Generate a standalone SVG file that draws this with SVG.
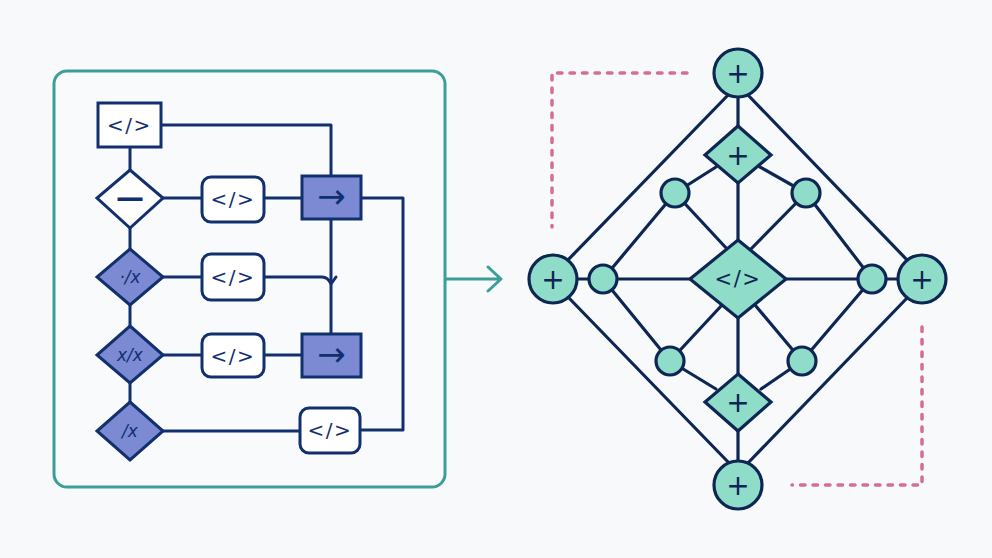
<svg xmlns="http://www.w3.org/2000/svg" width="992" height="558" viewBox="0 0 992 558">
<defs>
<style>
.bg{fill:#f8f9fb}
.ln{fill:none;stroke:#12306e;stroke-width:3;stroke-linejoin:round;stroke-linecap:round}
.rl{fill:none;stroke:#0d2654;stroke-width:3.2;stroke-linecap:round}
.wbox{fill:#ffffff;stroke:#12306e;stroke-width:3}
.bbox{fill:#7b8ad3;stroke:#12306e;stroke-width:3}
.tnode{fill:#8fdcc8;stroke:#0d2654;stroke-width:3.2}
.code{font-family:"DejaVu Sans",sans-serif;font-size:20px;fill:#12306e;text-anchor:middle;letter-spacing:1.5px}
.dtxt{font-family:"DejaVu Sans",sans-serif;font-size:17px;font-style:italic;fill:#12306e;text-anchor:middle}
.arw{font-family:"DejaVu Sans",sans-serif;font-size:34px;fill:#12306e;text-anchor:middle}
.plus{font-family:"DejaVu Sans",sans-serif;font-size:28px;fill:#0d2654;text-anchor:middle}
.dash{fill:none;stroke:#d46f8e;stroke-width:3.5;stroke-linecap:round;stroke-dasharray:4.5 8}
</style>
</defs>
<rect class="bg" x="0" y="0" width="992" height="558"/>

<g id="panel">
<rect x="54" y="71" width="391" height="416" rx="13" fill="#f9fafc" stroke="#3b9f98" stroke-width="3"/>
</g>

<g id="connectors">
<path class="ln" d="M161 125 H331 V176"/>
<path class="ln" d="M130 147 V402"/>
<path class="ln" d="M163 198 H202"/>
<path class="ln" d="M264 198 H302"/>
<path class="ln" d="M361 198 H403 V430 H360"/>
<path class="ln" d="M331 219 V334"/>
<path class="ln" d="M264 277 H322 Q328 277 331 284 L336 277"/>
<path class="ln" d="M163 277 H202"/>
<path class="ln" d="M163 355 H202"/>
<path class="ln" d="M264 355 H302"/>
<path class="ln" d="M163 431 H300"/>
<path d="M446 279 H501 M488 267 L501 279 L488 291" fill="none" stroke="#3b9f98" stroke-width="3" stroke-linecap="round" stroke-linejoin="round"/>
<line class="rl" x1="730" y1="93" x2="566" y2="262"/>
<line class="rl" x1="747" y1="94" x2="909" y2="262"/>
<line class="rl" x1="568" y1="297" x2="730" y2="464"/>
<line class="rl" x1="908" y1="297" x2="747" y2="464"/>
<line class="rl" x1="738" y1="73" x2="738" y2="485"/>
<line class="rl" x1="553" y1="279" x2="922" y2="279"/>
<line class="rl" x1="675" y1="193" x2="603" y2="279"/>
<line class="rl" x1="806" y1="193" x2="872" y2="279"/>
<line class="rl" x1="603" y1="279" x2="670" y2="361"/>
<line class="rl" x1="872" y1="279" x2="802" y2="361"/>
<line class="rl" x1="675" y1="193" x2="716" y2="167"/>
<line class="rl" x1="806" y1="193" x2="760" y2="167"/>
<line class="rl" x1="675" y1="193" x2="728" y2="250"/>
<line class="rl" x1="806" y1="193" x2="750" y2="250"/>
<line class="rl" x1="670" y1="361" x2="722" y2="305"/>
<line class="rl" x1="802" y1="361" x2="755" y2="305"/>
<line class="rl" x1="670" y1="361" x2="716" y2="389"/>
<line class="rl" x1="802" y1="361" x2="761" y2="389"/>
<path class="dash" d="M687 73 H552 V227"/>
<path class="dash" d="M922 327 V485 H792"/>
</g>

<g id="start">
<rect class="wbox" x="98" y="103" width="63" height="44"/>
<text class="code" x="129.5" y="132">&lt;/&gt;</text>
</g>
<g id="dec1">
<polygon class="wbox" points="130,170 163,198 130,228 97,198"/>
<text class="arw" x="130" y="207" style="font-size:28px;font-weight:bold">—</text>
</g>
<g id="box1">
<rect class="wbox" x="202" y="177" width="62" height="45" rx="9"/>
<text class="code" x="233" y="206">&lt;/&gt;</text>
</g>
<g id="act1">
<rect class="bbox" x="302" y="176" width="59" height="43"/>
<text class="arw" x="331.5" y="208">→</text>
</g>
<g id="dec2">
<polygon class="bbox" points="130,249 163,277 130,305 97,277"/>
<text class="dtxt" x="130" y="283">·/x</text>
</g>
<g id="box2">
<rect class="wbox" x="202" y="254" width="62" height="46" rx="9"/>
<text class="code" x="233" y="284">&lt;/&gt;</text>
</g>
<g id="dec3">
<polygon class="bbox" points="130,326 163,355 130,383 97,355"/>
<text class="dtxt" x="130" y="361">x/x</text>
</g>
<g id="box3">
<rect class="wbox" x="202" y="334" width="62" height="43" rx="9"/>
<text class="code" x="233" y="363">&lt;/&gt;</text>
</g>
<g id="act2">
<rect class="bbox" x="302" y="334" width="59" height="43"/>
<text class="arw" x="331.5" y="366">→</text>
</g>
<g id="dec4">
<polygon class="bbox" points="130,402 163,431 130,460 97,431"/>
<text class="dtxt" x="130" y="437">/x</text>
</g>
<g id="box4">
<rect class="wbox" x="300" y="408" width="60" height="45" rx="9"/>
<text class="code" x="330" y="437">&lt;/&gt;</text>
</g>

<g id="topCircle">
<circle class="tnode" cx="738" cy="73" r="24"/>
<text class="plus" x="738" y="83">+</text>
</g>
<g id="bottomCircle">
<circle class="tnode" cx="738" cy="485" r="24"/>
<text class="plus" x="738" y="495">+</text>
</g>
<g id="leftCircle">
<circle class="tnode" cx="553" cy="279" r="24"/>
<text class="plus" x="553" y="289">+</text>
</g>
<g id="rightCircle">
<circle class="tnode" cx="922" cy="279" r="24"/>
<text class="plus" x="922" y="289">+</text>
</g>
<g id="topDiamond">
<polygon class="tnode" points="738,126 771,155 738,183 705,155"/>
<text class="plus" x="738" y="165">+</text>
</g>
<g id="bottomDiamond">
<polygon class="tnode" points="738,374 771,402 738,431 705,402"/>
<text class="plus" x="738" y="412">+</text>
</g>
<g id="centerDiamond">
<polygon class="tnode" points="738,240 786,279 738,318 690,279"/>
<text class="code" x="738" y="286" style="fill:#0d2654;font-size:21px">&lt;/&gt;</text>
</g>
<g id="nUL"><circle class="tnode" cx="675" cy="193" r="14"/></g>
<g id="nUR"><circle class="tnode" cx="806" cy="193" r="14"/></g>
<g id="nL"><circle class="tnode" cx="603" cy="279" r="14"/></g>
<g id="nR"><circle class="tnode" cx="872" cy="279" r="14"/></g>
<g id="nLL"><circle class="tnode" cx="670" cy="361" r="14"/></g>
<g id="nLR"><circle class="tnode" cx="802" cy="361" r="14"/></g>
</svg>
